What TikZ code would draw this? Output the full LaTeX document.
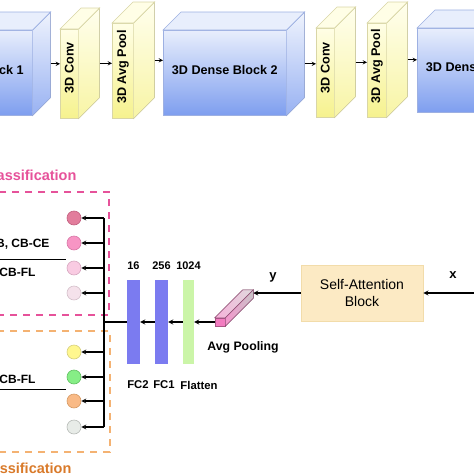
\documentclass[tikz,border=0pt]{standalone}
\usepackage{fontspec}
\setmainfont{Liberation Sans}
\usetikzlibrary{positioning}
\usetikzlibrary{arrows}
\usetikzlibrary{math}
\usetikzlibrary{calc}

\definecolor{blocktop}{HTML}{E8EEFC}
\definecolor{blockbot}{HTML}{7E9EEF}
\definecolor{blockedge}{HTML}{9DB0E2}
\definecolor{slabtop}{HTML}{FFFEE6}
\definecolor{slabbot}{HTML}{F6F28E}
\definecolor{slabedge}{HTML}{D9D6A6}
\definecolor{pinkline}{HTML}{E6529A}
\definecolor{orangeline}{HTML}{F4B272}
\definecolor{orangetext}{HTML}{D97A2A}
\definecolor{fcblue}{HTML}{7B7BF0}
\definecolor{flatgreen}{HTML}{CBF5A8}
\definecolor{poolpink}{HTML}{F27CC0}
\definecolor{poolgray}{HTML}{C9C4C8}
\definecolor{attfill}{HTML}{FCEAC4}
\definecolor{attedge}{HTML}{F2DCAA}

\begin{document}
\begin{tikzpicture}[
  x=1pt, y=-1pt,
  font=\bfseries,
  face/.style={draw, line width=0.6pt, inner sep=0pt, anchor=north west},
  blockface/.style={face, draw=blockedge, top color=blocktop, bottom color=blockbot},
  slabface/.style={face, draw=slabedge, top color=slabtop, bottom color=slabbot},
  cubetext/.style={font=\bfseries\fontsize{12.6}{14}\selectfont},
  thinarr/.style={-stealth, line width=0.9pt},
  arr/.style={-stealth, line width=1.2pt},
  bar/.style={inner sep=0pt, minimum height=84},
  dot/.style={circle, inner sep=0pt, minimum size=14, line width=0.6pt},
  ]

  \tikzmath{
    \bd = 18; % depth of the dense blocks
    \cd = 21; % depth of conv and pool slabs
    \pd = 28; % depth of the pooling bar
  }

  \useasboundingbox (0,0) rectangle (474,474);
  \clip (0,0) rectangle (474,474);

  % Front faces of the top row
  \node[blockface, minimum width=123, minimum height=85] (db1) at (-91,30) {};
  \node[slabface,  minimum width=18,  minimum height=89] (cv1) at (60,29) {};
  \node[slabface,  minimum width=21,  minimum height=95] (ap1) at (112,23) {};
  \node[blockface, minimum width=123, minimum height=85] (db2) at (163,30) {};
  \node[slabface,  minimum width=18,  minimum height=89] (cv2) at (316,28) {};
  \node[slabface,  minimum width=19,  minimum height=94] (ap2) at (367,23) {};
  \node[blockface, minimum width=123, minimum height=84] (db3) at (417,28) {};

  % Top and side faces
  \foreach \n/\dep/\tc/\bc/\ec in {db1/\bd/blocktop/blockbot/blockedge,
      db2/\bd/blocktop/blockbot/blockedge, db3/\bd/blocktop/blockbot/blockedge,
      cv1/\cd/slabtop/slabbot/slabedge, ap1/\cd/slabtop/slabbot/slabedge,
      cv2/\cd/slabtop/slabbot/slabedge, ap2/\cd/slabtop/slabbot/slabedge}{
    \filldraw[draw=\ec, line width=0.6pt, top color=\tc!70!white, bottom color=\bc!80!white]
      (\n.north east) -- ++(\dep,-\dep) -- ($(\n.south east)+(\dep,-\dep)$)
      -- (\n.south east) -- cycle;
    \filldraw[draw=\ec, line width=0.6pt, fill=\tc]
      (\n.north west) -- ++(\dep,-\dep) -- ($(\n.north east)+(\dep,-\dep)$)
      -- (\n.north east) -- cycle;
  }

  % Texts of the top row
  \node[cubetext] (tdb1) at ($(db1.center)+(0,-3)$) {3D Dense Block 1};
  \node[cubetext] (tdb2) at ($(db2.center)+(0,-3)$) {3D Dense Block 2};
  \node[cubetext] (tdb3) at ($(db3.center)+(0,-3)$) {3D Dense Block 3};
  \node[cubetext, rotate=90] (tcv1) at ($(cv1.center)+(0,-6)$) {3D Conv};
  \node[cubetext, rotate=90] (tap1) at ($(ap1.center)+(0,-4)$) {3D Avg Pool};
  \node[cubetext, rotate=90] (tcv2) at ($(cv2.center)+(0,-5)$) {3D Conv};
  \node[cubetext, rotate=90] (tap2) at ($(ap2.center)+(0,-4)$) {3D Avg Pool};

  % Arrows of the top row
  \foreach \a/\b/\dep in {db1/cv1/\bd, cv1/ap1/\cd, ap1/db2/\cd,
      db2/cv2/\bd, cv2/ap2/\cd, ap2/db3/\cd}{
    \coordinate (s) at ($(\a.east)+(\dep,-\dep/2)$);
    \draw[thinarr] (s) -- (s -| \b.west);
  }

  % Classification boxes
  \draw[pinkline, line width=1.8pt, dash pattern=on 7pt off 6pt]
    (-10,192) rectangle (109,315);
  \draw[orangeline, line width=1.8pt, dash pattern=on 7pt off 6pt]
    (-10,331) rectangle (110,452);
  \node[pinkline, anchor=east, font=\bfseries\fontsize{14.5}{16}\selectfont]
    (clsa) at (80,175) {Classification};
  \node[orangetext, anchor=east, font=\bfseries\fontsize{14.5}{16}\selectfont]
    (clsb) at (75,468) {Classification};

  % Loss names
  \node[anchor=east, font=\bfseries\fontsize{12}{14}\selectfont] (lossa) at (53,244) {B, CB-CE};
  \node[anchor=east, font=\bfseries\fontsize{12}{14}\selectfont] (lossb) at (39,272) {CB-FL};
  \node[anchor=east, font=\bfseries\fontsize{12}{14}\selectfont] (lossc) at (39,379) {CB-FL};
  \draw[line width=1pt] (-5,259) -- (66,259);
  \draw[line width=1pt] (-5,389) -- (66,389);

  % Output classes
  \foreach \i/\y/\f/\e in {1/218/E27D9C/C2607F, 2/243/F795C4/D877A6,
      3/268/F9CBE2/D6A8C0, 4/293/F5E2EB/D4C0CA, 5/352/FFF78F/D6CF7E,
      6/377/86EE86/62C062, 7/401/F9BA86/D69A64, 8/427/E8ECE8/B8BCB8}{
    \definecolor{dotfill}{HTML}{\f}
    \definecolor{dotedge}{HTML}{\e}
    \node[dot, fill=dotfill, draw=dotedge] (c\i) at (74,\y) {};
  }
  \coordinate (trunk) at (104,0);
  \draw[line width=1.2pt] (c1 -| trunk) -- (c8 -| trunk);
  \foreach \i in {1,...,8}
    \draw[arr] (c\i -| trunk) -- (c\i);

  % Dense layers
  \node[bar, fill=fcblue, minimum width=13] (fc2) at (133.5,322) {};
  \node[bar, fill=fcblue, minimum width=13] (fc1) at (161.5,322) {};
  \node[bar, fill=flatgreen, minimum width=11] (flat) at (188.5,322) {};
  \node[above=7pt of fc2, font=\bfseries\fontsize{11}{13}\selectfont] (n16) {16};
  \node[above=7pt of fc1, font=\bfseries\fontsize{11}{13}\selectfont] (n256) {256};
  \node[above=7pt of flat, font=\bfseries\fontsize{11}{13}\selectfont] (n1024) {1024};
  \node[font=\bfseries\fontsize{11.3}{13}\selectfont] (lfc2) at (138,385) {FC2};
  \node[font=\bfseries\fontsize{11.3}{13}\selectfont] (lfc1) at (164,385) {FC1};
  \node[font=\bfseries\fontsize{11.3}{13}\selectfont] (lflat) at (199,385) {Flatten};
  \draw[line width=1.2pt] (fc2.west) -- (fc2.west -| trunk);
  \draw[arr] (fc1.west) -- (fc2.east);
  \draw[arr] (flat.west) -- (fc1.east);

  % Avg pooling bar
  \node[inner sep=0pt, minimum width=10, minimum height=8, fill=poolpink,
    draw=poolpink!70!black, line width=0.5pt] (pool) at (220,322) {};
  \filldraw[draw=poolpink!60!black, line width=0.5pt, left color=poolpink!80!white, right color=poolgray]
    (pool.north east) -- ++(\pd,-\pd) -- ($(pool.south east)+(\pd,-\pd)$)
    -- (pool.south east) -- cycle;
  \filldraw[draw=poolpink!60!black, line width=0.5pt, left color=poolpink!60!white, right color=poolgray!60!white]
    (pool.north west) -- ++(\pd,-\pd) -- ($(pool.north east)+(\pd,-\pd)$)
    -- (pool.north east) -- cycle;
  \coordinate (poolin) at ($(pool.east)+(\pd,-\pd)$);
  \node[font=\bfseries\fontsize{12.3}{14}\selectfont] (lpool) at (243,347) {Avg Pooling};
  \draw[arr] (pool.west) -- (flat.east);

  % Self-attention
  \node[fill=attfill, draw=attedge, line width=0.8pt, minimum width=122, minimum height=56,
    align=center, font=\fontsize{14}{17}\selectfont] (att) at (362,293) {Self-Attention\\Block};
  \coordinate (xin) at (480,293);
  \draw[arr] (xin) -- (att.east);
  \draw[arr] (att.west) -- (att.west -| poolin);
  \node[font=\bfseries\fontsize{13}{15}\selectfont] (lx) at (453,275) {x};
  \node[font=\bfseries\fontsize{13}{15}\selectfont] (ly) at (273,277) {y};

\end{tikzpicture}
\end{document}
